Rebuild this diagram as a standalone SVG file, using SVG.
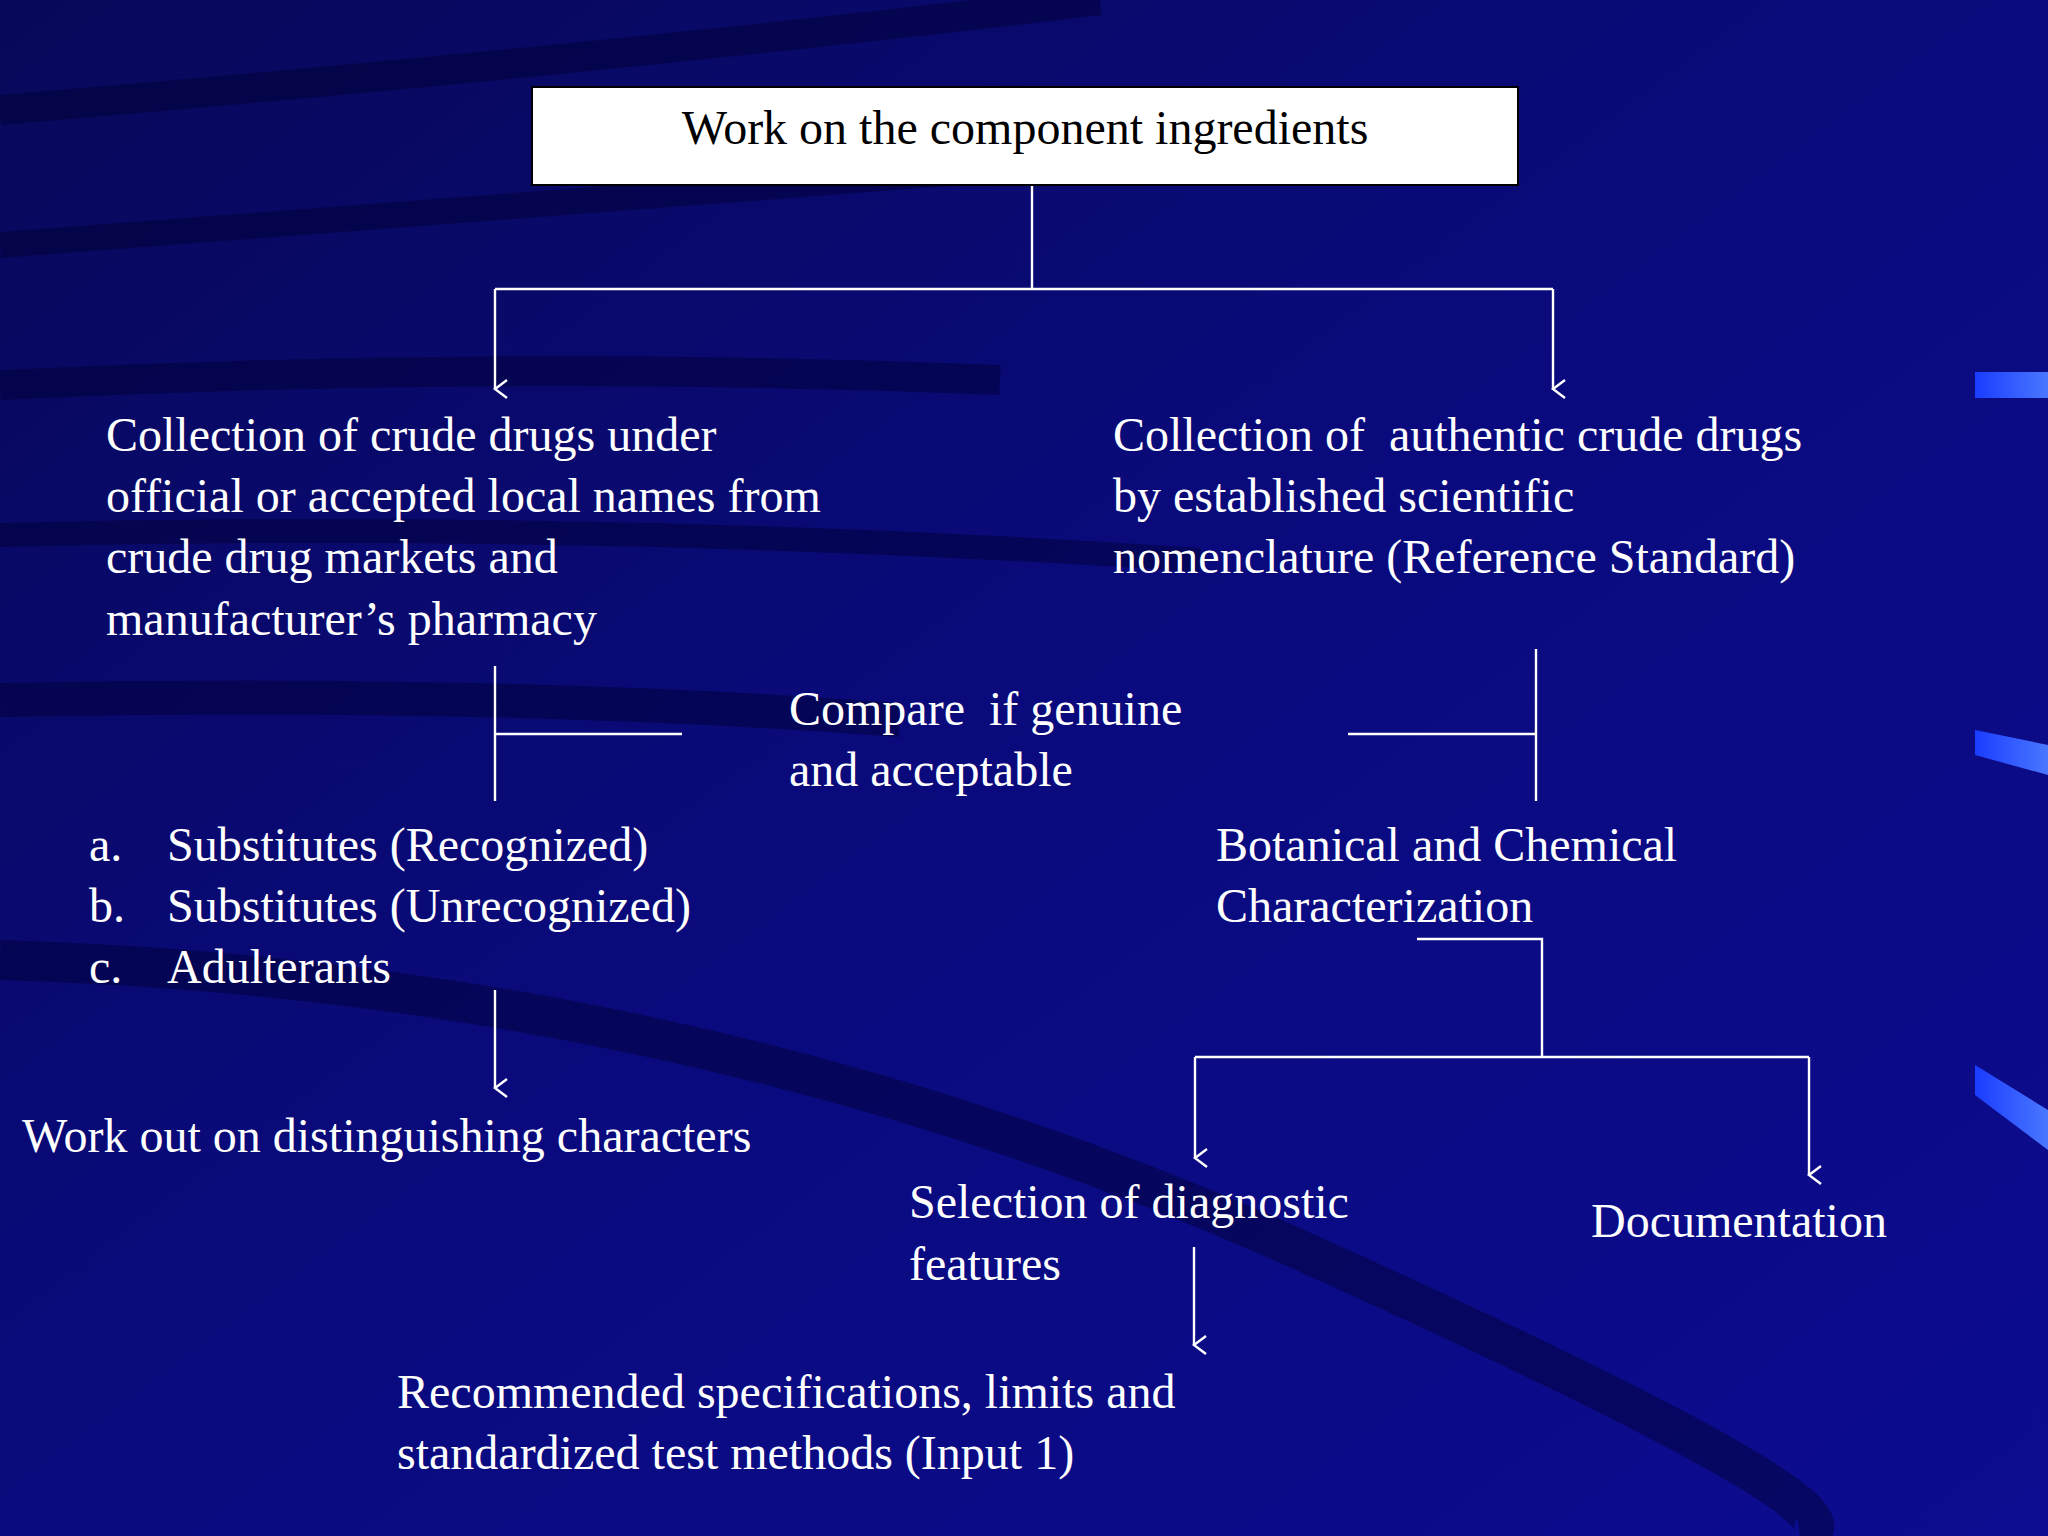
<svg xmlns="http://www.w3.org/2000/svg" width="2048" height="1536" viewBox="0 0 2048 1536">
<defs>
<linearGradient id="bg" x1="0" y1="0" x2="1" y2="1">
<stop offset="0" stop-color="#08085a"/>
<stop offset="0.5" stop-color="#0a0a7e"/>
<stop offset="1" stop-color="#0c0c90"/>
</linearGradient>
<marker id="ah" markerWidth="20" markerHeight="20" refX="10" refY="18" orient="auto" markerUnits="userSpaceOnUse" viewBox="0 0 20 20">
<polyline points="1,6 10,18 19,6" fill="none" stroke="#fff" stroke-width="2.4"/>
</marker>
<linearGradient id="tab" x1="0" y1="0" x2="1" y2="0">
<stop offset="0" stop-color="#1a3cff"/><stop offset="1" stop-color="#4a78ff"/>
</linearGradient>
</defs>
<style>
.t{font-family:"Liberation Serif","Times New Roman",serif;font-size:48px;fill:#fff}
.l{stroke:#fff;stroke-width:2.4;fill:none}
</style>
<rect width="2048" height="1536" fill="url(#bg)"/>
<g fill="none" stroke="#000030" stroke-opacity="0.45">
<path d="M0 110 Q600 60 1100 0" stroke-width="30"/>
<path d="M0 245 Q700 190 1250 150" stroke-width="26"/>
<path d="M0 385 Q500 360 1000 380" stroke-width="30"/>
<path d="M0 535 Q600 520 1200 560" stroke-width="24"/>
<path d="M0 700 Q500 690 900 720" stroke-width="34"/>
<path d="M0 960 Q700 980 1300 1250 T1800 1536" stroke-width="40"/>
</g>
<polygon points="1975,372 2048,372 2048,398 1975,398" fill="url(#tab)"/>
<polygon points="1975,730 2048,745 2048,775 1975,755" fill="url(#tab)"/>
<polygon points="1975,1065 2048,1110 2048,1150 1975,1095" fill="url(#tab)"/>
<g id="connectors">
<path class="l" d="M1032 185 V289"/>
<path class="l" d="M495 289 H1553"/>
<path class="l" d="M495 289 V389" marker-end="url(#ah)"/>
<path class="l" d="M1553 289 V389" marker-end="url(#ah)"/>
<path class="l" d="M495 666 V801 M495 734 H682"/>
<path class="l" d="M1536 649 V801 M1348 734 H1536"/>
<path class="l" d="M495 990 V1088" marker-end="url(#ah)"/>
<path class="l" d="M1417 939 H1542 V1057 M1195 1057 H1809"/>
<path class="l" d="M1195 1057 V1158" marker-end="url(#ah)"/>
<path class="l" d="M1809 1057 V1175" marker-end="url(#ah)"/>
<path class="l" d="M1194 1247 V1345" marker-end="url(#ah)"/>
</g>
<g id="top"><rect x="532" y="87" width="986" height="98" fill="#fff" stroke="#000" stroke-width="2"/>
<text class="t" x="1025" y="144" text-anchor="middle" style="fill:#000">Work on the component ingredients</text></g>
<g id="left"><text class="t" x="106" y="451">Collection of crude drugs under</text><text class="t" x="106" y="512">official or accepted local names from</text><text class="t" x="106" y="573">crude drug markets and</text><text class="t" x="106" y="635">manufacturer’s pharmacy</text></g>
<g id="right"><text class="t" x="1113" y="451" xml:space="preserve">Collection of  authentic crude drugs</text><text class="t" x="1113" y="512">by established scientific</text><text class="t" x="1113" y="573">nomenclature (Reference Standard)</text></g>
<g id="compare"><text class="t" x="789" y="725" xml:space="preserve">Compare  if genuine</text><text class="t" x="789" y="786">and acceptable</text></g>
<g id="list"><text class="t" x="89" y="861">a.</text><text class="t" x="167" y="861">Substitutes (Recognized)</text><text class="t" x="89" y="922">b.</text><text class="t" x="167" y="922">Substitutes (Unrecognized)</text><text class="t" x="89" y="983">c.</text><text class="t" x="167" y="983">Adulterants</text></g>
<g id="botanical"><text class="t" x="1216" y="861">Botanical and Chemical</text><text class="t" x="1216" y="922">Characterization</text></g>
<g id="workout"><text class="t" x="22" y="1152">Work out on distinguishing characters</text></g>
<g id="selection"><text class="t" x="909" y="1218">Selection of diagnostic</text><text class="t" x="909" y="1280">features</text></g>
<g id="documentation"><text class="t" x="1591" y="1237">Documentation</text></g>
<g id="recommended"><text class="t" x="397" y="1408">Recommended specifications, limits and</text><text class="t" x="397" y="1469">standardized test methods (Input 1)</text></g>
</svg>
